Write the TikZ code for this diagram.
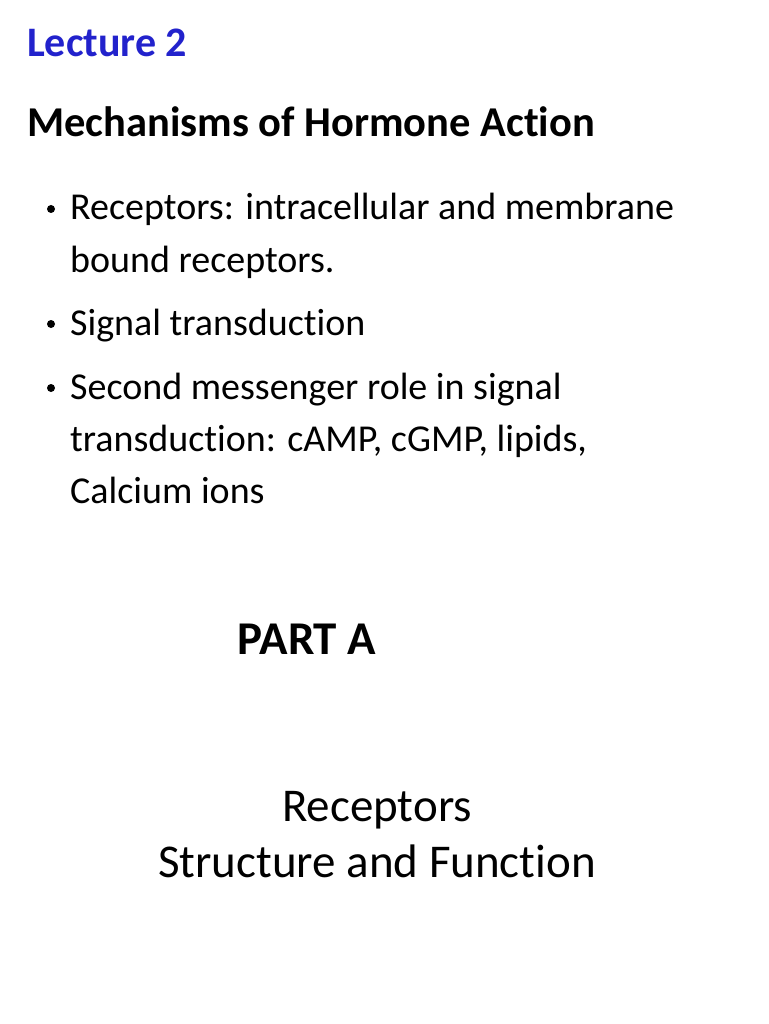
\documentclass[tikz,border=0pt]{standalone}
\usepackage{fontspec}
\setmainfont[RawFeature=-liga]{Carlito}
\definecolor{lecblue}{RGB}{34,34,204}
\begin{document}
\begin{tikzpicture}[x=1pt,y=-1pt,
  txt/.style={anchor=base west,inner sep=0pt,font=\fontsize{38}{38}\selectfont},
  bul/.style={circle,fill=black,inner sep=0pt,minimum size=8pt}]
\useasboundingbox[fill=white] (0,0) rectangle (768,1024);
\node[txt,font=\fontsize{42}{42}\selectfont\bfseries,text=lecblue] (lec) at (27,57) {Lecture 2};
\node[txt,font=\fontsize{42.5}{42}\selectfont\bfseries] (mech) at (27,137) {Mechanisms of Hormone Action};
\node[bul] (b1) at (51,209) {};
\node[txt] (t1) at (70,220) {Receptors: intracellular and membrane};
\node[txt] (t1b) at (70,272) {bound receptors.};
\node[bul] (b2) at (51,324) {};
\node[txt] (t2) at (70,335) {Signal transduction};
\node[bul] (b3) at (51,388) {};
\node[txt] (t3) at (70,399) {Second messenger role in signal};
\node[txt] (t3b) at (70,451) {transduction: cAMP, cGMP, lipids,};
\node[txt] (t3c) at (70,503) {Calcium ions};
\node[anchor=base,inner sep=0pt,font=\fontsize{47}{47}\selectfont\bfseries] (part) at (307,654) {PART A};
\node[anchor=base,inner sep=0pt,font=\fontsize{47}{47}\selectfont] (rec) at (377,821) {Receptors};
\node[anchor=base,inner sep=0pt,font=\fontsize{47}{47}\selectfont] (sf) at (377,877) {Structure and Function};
\end{tikzpicture}
\end{document}
